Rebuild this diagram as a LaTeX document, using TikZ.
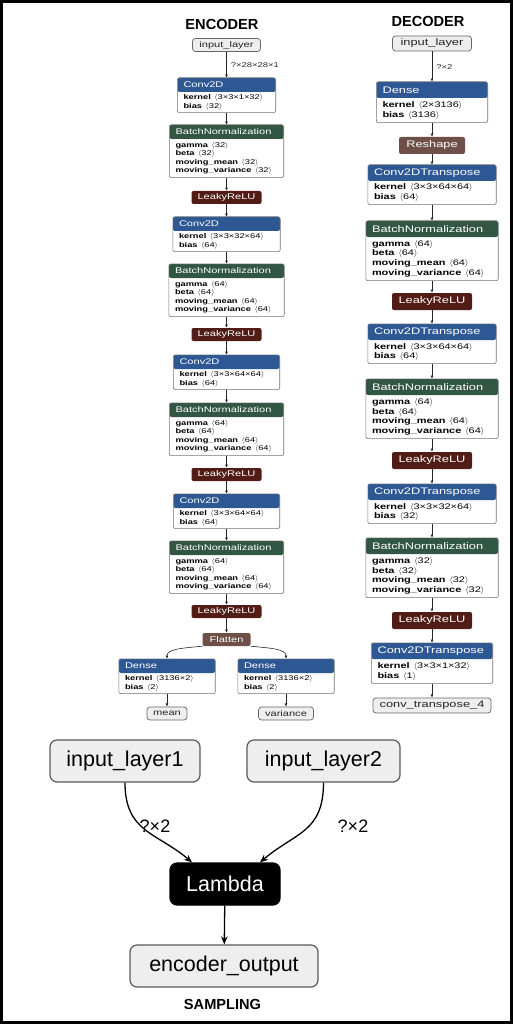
\documentclass[tikz,border=0pt]{standalone}
\usepackage{fontspec}
\setmainfont{Liberation Sans}
\newfontfamily\netfont[FakeStretch=1.35]{Liberation Sans}
\usepackage{tikz}
\usetikzlibrary{positioning,arrows.meta}

\definecolor{convblue}{RGB}{46,88,148}
\definecolor{normgreen}{RGB}{49,86,68}
\definecolor{actred}{RGB}{82,28,22}
\definecolor{shapebrown}{RGB}{110,80,72}
\definecolor{inputgray}{RGB}{238,238,238}

\newcommand{\shp}[1]{\ensuremath{\langle}#1\ensuremath{\rangle}}
\newcommand{\lattr}[2]{\textbf{#1}\enspace\shp{#2}}

\begin{document}
\begin{tikzpicture}[x=1pt, y=-1pt,
    ehead/.style={text width=#1pt, inner xsep=6pt, inner ysep=0pt, minimum height=14pt, align=left, rounded corners=2pt, text=white, font=\netfont\fontsize{8.2}{9}\selectfont},
    ebody/.style={text width=#1pt, inner xsep=6pt, inner ysep=2pt, align=left, font=\netfont\fontsize{6.9}{8.4}\selectfont},
    dhead/.style={ehead=#1, minimum height=16pt, font=\netfont\fontsize{9.5}{10}\selectfont},
    dbody/.style={ebody=#1, inner ysep=2.5pt, font=\netfont\fontsize{8.1}{9.8}\selectfont},
    eop/.style={minimum width=#1pt, minimum height=13pt, inner sep=0pt, rounded corners=2pt, text=white, font=\netfont\fontsize{8.2}{9}\selectfont},
    dop/.style={eop=#1, minimum height=17pt, font=\netfont\fontsize{9.5}{10}\selectfont},
    eio/.style={eop=#1, draw=black!60, line width=0.7pt, rounded corners=3pt, fill=inputgray, text=black!85},
    dio/.style={dop=#1, minimum height=15pt, draw=black!60, line width=0.7pt, rounded corners=3pt, fill=inputgray, text=black!85},
    boxline/.style={draw=black!55, line width=0.6pt, rounded corners=2pt},
    arr/.style={-{Latex[length=3.2pt,width=2.8pt]}, line width=0.6pt, black!85},
    elab/.style={font=\netfont\fontsize{7}{8}\selectfont, inner sep=1pt},
    ttl/.style={font=\bfseries\fontsize{14.6}{16}\selectfont},
    samp/.style={draw=black!65, line width=1.2pt, fill=inputgray, rounded corners=7pt, minimum height=42pt, inner sep=0pt, font=\fontsize{21.5}{24}\selectfont},
    sarr/.style={-{Stealth[length=8pt,width=6.5pt]}, line width=1.3pt},
    slab/.style={font=\fontsize{18}{20}\selectfont}
]
    \useasboundingbox (0,0) rectangle (513,1024);
    \draw[line width=3pt] (1.5,1.5) rectangle (511.5,1022.5);

    % Encoder
    \node[ttl] (enctitle) at (222,24.5) {ENCODER};
    \node[eio=68] (einput) at (226.5,45) {input\_layer};
    \node[ehead=86, fill=convblue] (ec1) at (226.5,85) {Conv2D};
    \node[ebody=86, minimum height=20pt, below=0pt of ec1] (ec1-b) {\lattr{kernel}{3×3×1×32}\\\lattr{bias}{32}};
    \node[ehead=102, fill=normgreen] (ebn1) at (226.5,132) {BatchNormalization};
    \node[ebody=102, minimum height=38pt, below=0pt of ebn1] (ebn1-b) {\lattr{gamma}{32}\\\lattr{beta}{32}\\\lattr{moving\_mean}{32}\\\lattr{moving\_variance}{32}};
    \node[eop=70, fill=actred] (er1) at (226.5,197.5) {LeakyReLU};
    \node[ehead=95, fill=convblue] (ec2) at (226.5,224) {Conv2D};
    \node[ebody=95, minimum height=20pt, below=0pt of ec2] (ec2-b) {\lattr{kernel}{3×3×32×64}\\\lattr{bias}{64}};
    \node[ehead=103, fill=normgreen] (ebn2) at (226.5,271) {BatchNormalization};
    \node[ebody=103, minimum height=38pt, below=0pt of ebn2] (ebn2-b) {\lattr{gamma}{64}\\\lattr{beta}{64}\\\lattr{moving\_mean}{64}\\\lattr{moving\_variance}{64}};
    \node[eop=70, fill=actred] (er2) at (226.5,334.5) {LeakyReLU};
    \node[ehead=94, fill=convblue] (ec3) at (226.5,362) {Conv2D};
    \node[ebody=94, minimum height=20pt, below=0pt of ec3] (ec3-b) {\lattr{kernel}{3×3×64×64}\\\lattr{bias}{64}};
    \node[ehead=102, fill=normgreen] (ebn3) at (226.5,410) {BatchNormalization};
    \node[ebody=102, minimum height=38pt, below=0pt of ebn3] (ebn3-b) {\lattr{gamma}{64}\\\lattr{beta}{64}\\\lattr{moving\_mean}{64}\\\lattr{moving\_variance}{64}};
    \node[eop=70, fill=actred] (er3) at (226.5,474.5) {LeakyReLU};
    \node[ehead=94, fill=convblue] (ec4) at (226.5,501) {Conv2D};
    \node[ebody=94, minimum height=20pt, below=0pt of ec4] (ec4-b) {\lattr{kernel}{3×3×64×64}\\\lattr{bias}{64}};
    \node[ehead=102, fill=normgreen] (ebn4) at (226.5,548) {BatchNormalization};
    \node[ebody=102, minimum height=38pt, below=0pt of ebn4] (ebn4-b) {\lattr{gamma}{64}\\\lattr{beta}{64}\\\lattr{moving\_mean}{64}\\\lattr{moving\_variance}{64}};
    \node[eop=70, fill=actred] (er4) at (226.5,611.5) {LeakyReLU};
    \node[eop=48, fill=shapebrown] (eflat) at (226.5,639.5) {Flatten};
    \node[ehead=84, fill=convblue] (ed1) at (167,666) {Dense};
    \node[ebody=84, minimum height=20pt, below=0pt of ed1] (ed1-b) {\lattr{kernel}{3136×2}\\\lattr{bias}{2}};
    \node[ehead=84, fill=convblue] (ed2) at (286,666) {Dense};
    \node[ebody=84, minimum height=20pt, below=0pt of ed2] (ed2-b) {\lattr{kernel}{3136×2}\\\lattr{bias}{2}};
    \node[eio=40] (emean) at (167,713.5) {mean};
    \node[eio=55] (evar) at (286,713.5) {variance};

    % Decoder
    \node[ttl] (dectitle) at (428,21) {DECODER};
    \node[dio=79] (dinput) at (432,43.5) {input\_layer};
    \node[dhead=99, fill=convblue] (ddense) at (432,90) {Dense};
    \node[dbody=99, minimum height=24pt, below=0pt of ddense] (ddense-b) {\lattr{kernel}{2×3136}\\\lattr{bias}{3136}};
    \node[dop=66, fill=shapebrown] (dreshape) at (432,145.5) {Reshape};
    \node[dhead=116, fill=convblue] (dct1) at (432,173) {Conv2DTranspose};
    \node[dbody=116, minimum height=23pt, below=0pt of dct1] (dct1-b) {\lattr{kernel}{3×3×64×64}\\\lattr{bias}{64}};
    \node[dhead=120, fill=normgreen] (dbn1) at (432,229) {BatchNormalization};
    \node[dbody=120, minimum height=43pt, below=0pt of dbn1] (dbn1-b) {\lattr{gamma}{64}\\\lattr{beta}{64}\\\lattr{moving\_mean}{64}\\\lattr{moving\_variance}{64}};
    \node[dop=80, fill=actred] (drelu1) at (432,301.5) {LeakyReLU};
    \node[dhead=116, fill=convblue] (dct2) at (432,332) {Conv2DTranspose};
    \node[dbody=116, minimum height=23pt, below=0pt of dct2] (dct2-b) {\lattr{kernel}{3×3×64×64}\\\lattr{bias}{64}};
    \node[dhead=120, fill=normgreen] (dbn2) at (432,387) {BatchNormalization};
    \node[dbody=120, minimum height=43pt, below=0pt of dbn2] (dbn2-b) {\lattr{gamma}{64}\\\lattr{beta}{64}\\\lattr{moving\_mean}{64}\\\lattr{moving\_variance}{64}};
    \node[dop=80, fill=actred] (drelu2) at (432,460.5) {LeakyReLU};
    \node[dhead=116, fill=convblue] (dct3) at (432,492) {Conv2DTranspose};
    \node[dbody=116, minimum height=23pt, below=0pt of dct3] (dct3-b) {\lattr{kernel}{3×3×32×64}\\\lattr{bias}{32}};
    \node[dhead=120, fill=normgreen] (dbn3) at (432,546) {BatchNormalization};
    \node[dbody=120, minimum height=43pt, below=0pt of dbn3] (dbn3-b) {\lattr{gamma}{32}\\\lattr{beta}{32}\\\lattr{moving\_mean}{32}\\\lattr{moving\_variance}{32}};
    \node[dop=80, fill=actred] (drelu3) at (432,620.5) {LeakyReLU};
    \node[dhead=109, fill=convblue] (dct4) at (432,651) {Conv2DTranspose};
    \node[dbody=109, minimum height=24pt, below=0pt of dct4] (dct4-b) {\lattr{kernel}{3×3×1×32}\\\lattr{bias}{1}};
    \node[dio=118] (dout) at (432,705.5) {conv\_transpose\_4};

    % box outlines
    \foreach \n in {ec1,ebn1,ec2,ebn2,ec3,ebn3,ec4,ebn4,ed1,ed2,ddense,dct1,dbn1,dct2,dbn2,dct3,dbn3,dct4}
        \draw[boxline] (\n.north west) rectangle (\n-b.south east);

    % Connectors
    \draw[arr] (einput) -- node[elab, right=3pt] (eshape) {?×28×28×1} (ec1);
    \foreach \a/\b in {ec1-b/ebn1, ebn1-b/er1, er1/ec2, ec2-b/ebn2, ebn2-b/er2, er2/ec3, ec3-b/ebn3, ebn3-b/er3, er3/ec4, ec4-b/ebn4, ebn4-b/er4, er4/eflat, ed1-b/emean, ed2-b/evar}
        \draw[arr] (\a) -- (\b);
    \draw[arr] (eflat.south west) .. controls +(-20,2) and +(0,-10) .. (ed1.north);
    \draw[arr] (eflat.south east) .. controls +(20,2) and +(0,-10) .. (ed2.north);

    \draw[arr] (dinput) -- node[elab, right=3pt] (dshape) {?×2} (ddense);
    \foreach \a/\b in {ddense-b/dreshape, dreshape/dct1, dct1-b/dbn1, dbn1-b/drelu1, drelu1/dct2, dct2-b/dbn2, dbn2-b/drelu2, drelu2/dct3, dct3-b/dbn3, dbn3-b/drelu3, drelu3/dct4, dct4-b/dout}
        \draw[arr] (\a) -- (\b);

    % Sampling
    \node[samp, minimum width=150pt] (sin1) at (125,761) {input\_layer1};
    \node[samp, minimum width=153pt] (sin2) at (323.5,761) {input\_layer2};
    \node[samp, minimum width=110pt, fill=black, draw=black, text=white] (slambda) at (225,884) {Lambda};
    \node[samp, minimum width=188pt] (sout) at (224,966) {encoder\_output};
    \node[slab] (sshape1) at (155,826) {?×2};
    \node[slab] (sshape2) at (353,826) {?×2};
    \draw[sarr] (sin1.south) .. controls +(0,50) and +(-35,-30) .. ([xshift=-33pt]slambda.north);
    \draw[sarr] (sin2.south) .. controls +(0,50) and +(35,-30) .. ([xshift=35pt]slambda.north);
    \draw[sarr] (slambda) -- (sout);
    \node[ttl] (samptitle) at (222.5,1004) {SAMPLING};
\end{tikzpicture}
\end{document}
